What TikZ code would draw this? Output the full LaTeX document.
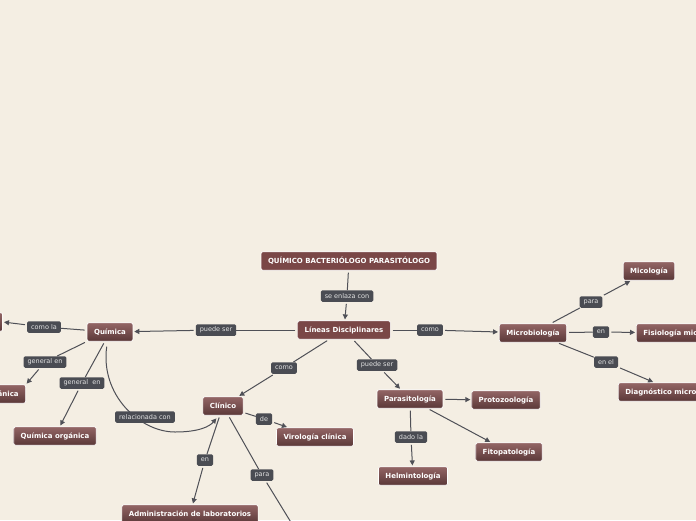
\documentclass[tikz,border=0pt]{standalone}
\usepackage{fontspec}
\setmainfont{DejaVu Sans}
\usetikzlibrary{arrows.meta,calc}
\definecolor{bg}{HTML}{F4EEE3}
\definecolor{topc}{HTML}{936565}
\definecolor{botc}{HTML}{5A3838}
\definecolor{mainc}{HTML}{7A4747}
\definecolor{lblc}{HTML}{4A4C53}
\definecolor{lbltxt}{HTML}{E2E2E2}
\definecolor{linec}{HTML}{4F5057}
\begin{document}
\begin{tikzpicture}[x=1pt,y=-1pt,
 topic/.style={draw=white, line width=0.7pt, rounded corners=2pt, top color=topc, bottom color=botc, text=white,
   font=\fontsize{7}{8}\selectfont\bfseries, minimum height=18.5pt, inner xsep=7pt, inner ysep=0pt},
 mainbox/.style={topic, top color=mainc, bottom color=mainc},
 lbl/.style={fill=lblc, rounded corners=1.5pt, text=lbltxt, font=\fontsize{6.5}{7}\selectfont,
   minimum height=11.5pt, inner xsep=4pt, inner ysep=0pt},
 conn/.style={draw=linec, line width=1pt, shorten <=2pt},
 arr/.style={conn, -{Triangle[length=5pt,width=5pt]}, shorten >=1pt}
]
\fill[bg] (0,0) rectangle (696,520);
\useasboundingbox (0,0) rectangle (696,520);
\clip (0,0) rectangle (696,520);

% topics
\node[mainbox] (title) at (349,261) {QUÍMICO BACTERIÓLOGO PARASITÓLOGO};
\node[mainbox] (lin) at (344,330) {Líneas Disciplinares};
\node[topic] (qui) at (110,332) {Química};
\node[topic] (mic) at (533,333) {Microbiología};
\node[topic] (myc) at (649,271) {Micología};
\node[topic,anchor=west] (fis) at (636,333) {Fisiología microbiana};
\node[topic,anchor=west] (dia) at (618,392) {Diagnóstico microbiológico};
\node[topic,anchor=east,minimum width=60pt] (bio) at (3,322) {};
\node[topic,anchor=east] (inorg) at (26,394) {Química inorgánica};
\node[topic] (org) at (55,436) {Química orgánica};
\node[topic] (cli) at (223,406) {Clínico};
\node[topic] (vir) at (315,437) {Virología clínica};
\node[topic] (adm) at (190,514) {Administración de laboratorios};
\node[topic] (par) at (410,399) {Parasitología};
\node[topic] (pro) at (506,400) {Protozoología};
\node[topic] (fit) at (509,452) {Fitopatología};
\node[topic] (hel) at (413,476) {Helmintología};
\coordinate (off) at (292,524);

% curved connector (under its label)
\draw[arr] ($(qui.south)+(-3,3)$) .. controls (100,395) and (140,432) .. (175,432)
   .. controls (200,432) and (210,426) .. ($(cli.south)+(-6,2)$);

% labels
\node[lbl] (l1) at (347,296) {se enlaza con};
\node[lbl] (l2) at (216,330) {puede ser};
\node[lbl] (l3) at (430,330) {como};
\node[lbl] (l4) at (284,368) {como};
\node[lbl] (l5) at (377,365) {puede ser};
\node[lbl] (l6) at (44,327) {como la};
\node[lbl] (l7) at (45,362) {general en};
\node[lbl] (l8) at (82,383) {general\ \ en};
\node[lbl] (l9) at (145,417) {relacionada con};
\node[lbl] (l10) at (591,302) {para};
\node[lbl] (l11) at (601,332) {en};
\node[lbl] (l12) at (606,362) {en el};
\node[lbl] (l13) at (264,419) {de};
\node[lbl] (l14) at (205,460) {en};
\node[lbl] (l15) at (262,475) {para};
\node[lbl] (l16) at (411,437) {dado la};

% connectors
\draw[conn] (title) -- (l1); \draw[arr] (l1) -- (lin);
\draw[conn] (lin) -- (l2); \draw[arr] (l2) -- (qui);
\draw[conn] (lin) -- (l3); \draw[arr] (l3) -- (mic);
\draw[conn] (lin) -- (l4); \draw[arr] (l4) -- (cli);
\draw[conn] (lin) -- (l5); \draw[arr] (l5) -- (par);
\draw[conn] (qui) -- (l6); \draw[arr] (l6) -- (bio.east);
\draw[conn] (qui.south west) -- (l7); \draw[arr] (l7) -- (inorg.north east);
\draw[conn] (qui) -- (l8); \draw[arr] (l8) -- (org);
\draw[conn] (mic) -- (l10); \draw[arr] (l10) -- (myc);
\draw[conn] (mic) -- (l11); \draw[arr] (l11) -- (fis);
\draw[conn] (mic) -- (l12); \draw[arr] (l12) -- ($(dia.north west)+(36,0)$);
\draw[conn] (cli) -- (l13); \draw[arr] (l13) -- (vir);
\draw[conn] (cli) -- (l14); \draw[arr] (l14) -- (adm);
\draw[conn] (cli) -- (l15); \draw[conn] (l15) -- (off);
\draw[arr] (par) -- (pro);
\draw[arr] (par) -- (fit);
\draw[conn] (par) -- (l16); \draw[arr] (l16) -- (hel);
\end{tikzpicture}
\end{document}
